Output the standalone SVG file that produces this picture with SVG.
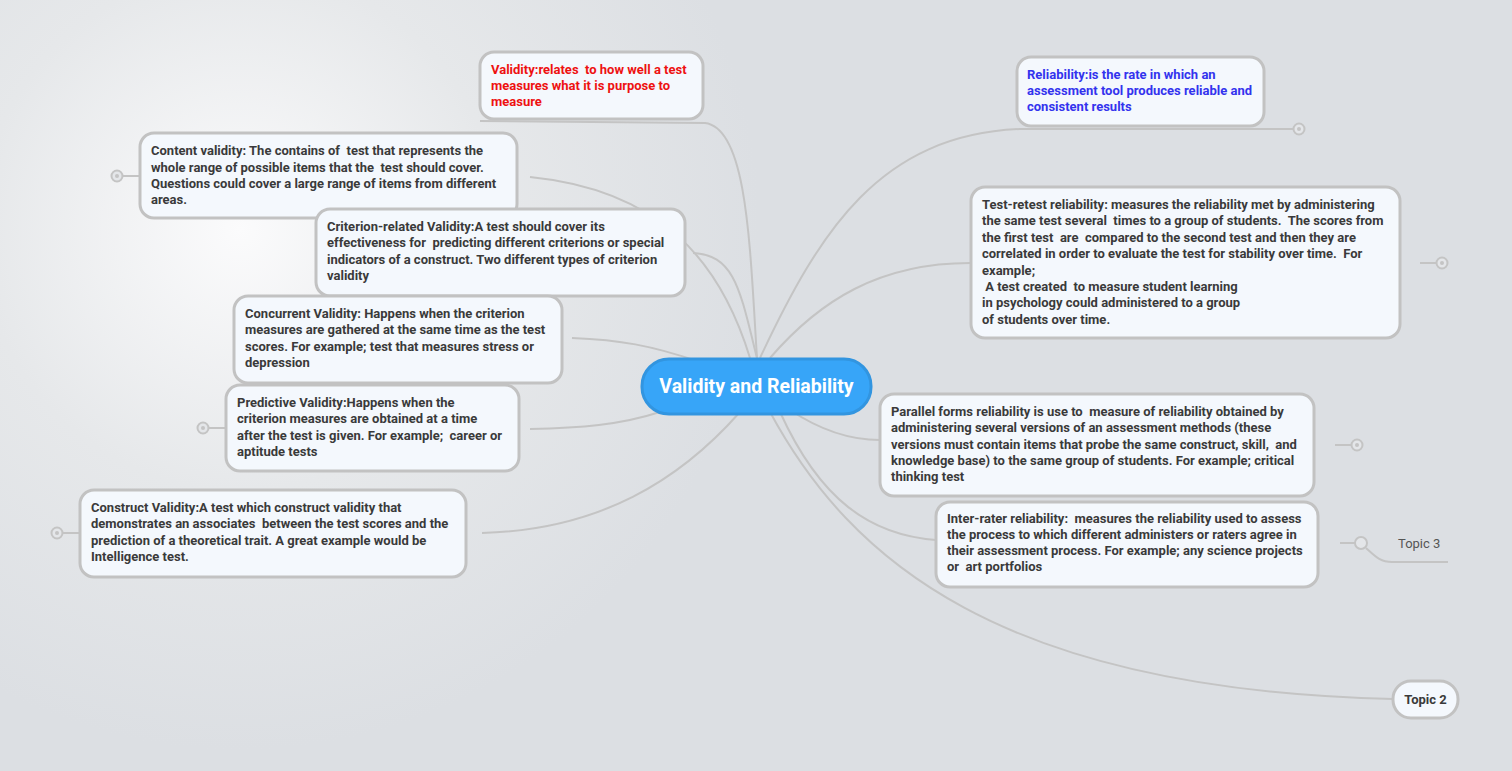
<svg xmlns="http://www.w3.org/2000/svg" width="1512" height="771" viewBox="0 0 1512 771">
<defs>
<radialGradient id="bg" cx="240" cy="230" r="520" gradientUnits="userSpaceOnUse">
<stop offset="0" stop-color="#fbfbfc"/><stop offset="0.5" stop-color="#e6e8ea"/><stop offset="1" stop-color="#dcdfe3"/>
</radialGradient>
<style>
.n{fill:#f4f8fd;stroke:#c2c2c2;stroke-width:3}
.t{font-family:Roboto,"Liberation Sans",sans-serif;font-size:13px;font-weight:bold;fill:#3a3a3a;white-space:pre}
.c{fill:none;stroke:#c4c4c4;stroke-width:2}
.k{fill:#e4e6e9;stroke:#c4c4c4;stroke-width:2}
</style>
</defs>
<rect width="1512" height="771" fill="url(#bg)"/>
<g id="connectors">
<path class="c" d="M757,358 C750,250 748,128 705,123 L480,121"/>
<path class="c" d="M750,358 C720,260 660,190 530,177"/>
<path class="c" d="M757,358 C740,290 735,255 693,253"/>
<path class="c" d="M700,362 C650,345 620,340 572,338"/>
<path class="c" d="M660,412 C620,425 580,428 530,429"/>
<path class="c" d="M740,412 C680,480 600,530 482,533"/>
<path class="c" d="M760,358 C820,230 880,135 1020,129 L1293,129"/>
<path class="c" d="M770,358 C820,300 880,263 970,263"/>
<path class="c" d="M790,410 C820,430 850,440 880,440"/>
<path class="c" d="M780,412 C820,500 870,535 936,540"/>
<path class="c" d="M770,412 C850,560 1000,690 1393,699"/>
<path class="c" d="M140,176 L123,176 M226,428 L209,428 M80,533 L63,533 M1420,263 L1436,263 M1335,445 L1351,445 M1340,543 L1355,543 M1366,548 C1375,556 1380,562 1392,562 L1448,562"/>
<circle class="k" cx="117" cy="176" r="5.5"/><circle cx="117" cy="176" r="2" fill="#c4c4c4"/>
<circle class="k" cx="203" cy="428" r="5.5"/><circle cx="203" cy="428" r="2" fill="#c4c4c4"/>
<circle class="k" cx="57" cy="533" r="5.5"/><circle cx="57" cy="533" r="2" fill="#c4c4c4"/>
<circle class="k" cx="1299" cy="129" r="5.5"/><circle cx="1299" cy="129" r="2" fill="#c4c4c4"/>
<circle class="k" cx="1442" cy="263" r="5.5"/><circle cx="1442" cy="263" r="2" fill="#c4c4c4"/>
<circle class="k" cx="1357" cy="445" r="5.5"/><circle cx="1357" cy="445" r="2" fill="#c4c4c4"/>
<circle class="k" cx="1361" cy="543" r="6"/>
</g>
<g id="center">
<rect x="642" y="359" width="229" height="55" rx="27" fill="#37a5f8" stroke="#3295e0" stroke-width="3"/>
<text x="756.5" y="393" text-anchor="middle" font-family="Roboto,'Liberation Sans',sans-serif" font-size="19.5" font-weight="bold" fill="#fff">Validity and Reliability</text>
</g>
<g id="validity">
<rect class="n" x="480" y="52" width="223" height="67" rx="14"/>
<text class="t" style="fill:#ee1111"><tspan x="491" y="74">Validity:relates  to how well a test</tspan><tspan x="491" y="90">measures what it is purpose to</tspan><tspan x="491" y="106">measure</tspan></text>
</g>
<g id="reliability">
<rect class="n" x="1017" y="57" width="247" height="69" rx="14"/>
<text class="t" style="fill:#3333ee"><tspan x="1027" y="79">Reliability:is the rate in which an</tspan><tspan x="1027" y="95">assessment tool produces reliable and</tspan><tspan x="1027" y="111">consistent results</tspan></text>
</g>
<g id="content">
<rect class="n" x="140" y="133" width="377" height="85" rx="14"/>
<text class="t"><tspan x="151" y="155">Content validity: The contains of  test that represents the</tspan><tspan x="151" y="172">whole range of possible items that the  test should cover.</tspan><tspan x="151" y="188">Questions could cover a large range of items from different</tspan><tspan x="151" y="204">areas.</tspan></text>
</g>
<g id="criterion">
<rect class="n" x="316" y="209" width="369" height="87" rx="14"/>
<text class="t"><tspan x="327" y="231">Criterion-related Validity:A test should cover its</tspan><tspan x="327" y="247">effectiveness for  predicting different criterions or special</tspan><tspan x="327" y="264">indicators of a construct. Two different types of criterion</tspan><tspan x="327" y="280">validity</tspan></text>
</g>
<g id="concurrent">
<rect class="n" x="234" y="296" width="328" height="87" rx="14"/>
<text class="t"><tspan x="245" y="318">Concurrent Validity: Happens when the criterion</tspan><tspan x="245" y="334">measures are gathered at the same time as the test</tspan><tspan x="245" y="351">scores. For example; test that measures stress or</tspan><tspan x="245" y="367">depression</tspan></text>
</g>
<g id="predictive">
<rect class="n" x="226" y="385" width="293" height="86" rx="14"/>
<text class="t"><tspan x="237" y="407">Predictive Validity:Happens when the</tspan><tspan x="237" y="423">criterion measures are obtained at a time</tspan><tspan x="237" y="440">after the test is given. For example;  career or</tspan><tspan x="237" y="456">aptitude tests</tspan></text>
</g>
<g id="construct">
<rect class="n" x="80" y="490" width="386" height="87" rx="14"/>
<text class="t"><tspan x="91" y="512">Construct Validity:A test which construct validity that</tspan><tspan x="91" y="528">demonstrates an associates  between the test scores and the</tspan><tspan x="91" y="545">prediction of a theoretical trait. A great example would be</tspan><tspan x="91" y="561">Intelligence test.</tspan></text>
</g>
<g id="testretest">
<rect class="n" x="971" y="187" width="429" height="151" rx="14"/>
<text class="t"><tspan x="982" y="209">Test-retest reliability: measures the reliability met by administering</tspan><tspan x="982" y="225">the same test several  times to a group of students.  The scores from</tspan><tspan x="982" y="242">the first test  are  compared to the second test and then they are</tspan><tspan x="982" y="258">correlated in order to evaluate the test for stability over time.  For</tspan><tspan x="982" y="275">example;</tspan><tspan x="982" y="291"> A test created  to measure student learning</tspan><tspan x="982" y="307">in psychology could administered to a group</tspan><tspan x="982" y="324">of students over time.</tspan></text>
</g>
<g id="parallel">
<rect class="n" x="880" y="394" width="434" height="102" rx="14"/>
<text class="t"><tspan x="891" y="416">Parallel forms reliability is use to  measure of reliability obtained by</tspan><tspan x="891" y="432">administering several versions of an assessment methods (these</tspan><tspan x="891" y="449">versions must contain items that probe the same construct, skill,  and</tspan><tspan x="891" y="465">knowledge base) to the same group of students. For example; critical</tspan><tspan x="891" y="481">thinking test</tspan></text>
</g>
<g id="interrater">
<rect class="n" x="936" y="502" width="382" height="85" rx="14"/>
<text class="t"><tspan x="947" y="523">Inter-rater reliability:  measures the reliability used to assess</tspan><tspan x="947" y="539">the process to which different administers or raters agree in</tspan><tspan x="947" y="555">their assessment process. For example; any science projects</tspan><tspan x="947" y="571">or  art portfolios</tspan></text>
</g>
<g id="topic3">
<text x="1398" y="548" font-family="Roboto,'Liberation Sans',sans-serif" font-size="13" fill="#555">Topic 3</text>
</g>
<g id="topic2">
<rect class="n" x="1393" y="681" width="65" height="37" rx="18"/>
<text class="t" x="1425.5" y="704" text-anchor="middle">Topic 2</text>
</g>
</svg>
